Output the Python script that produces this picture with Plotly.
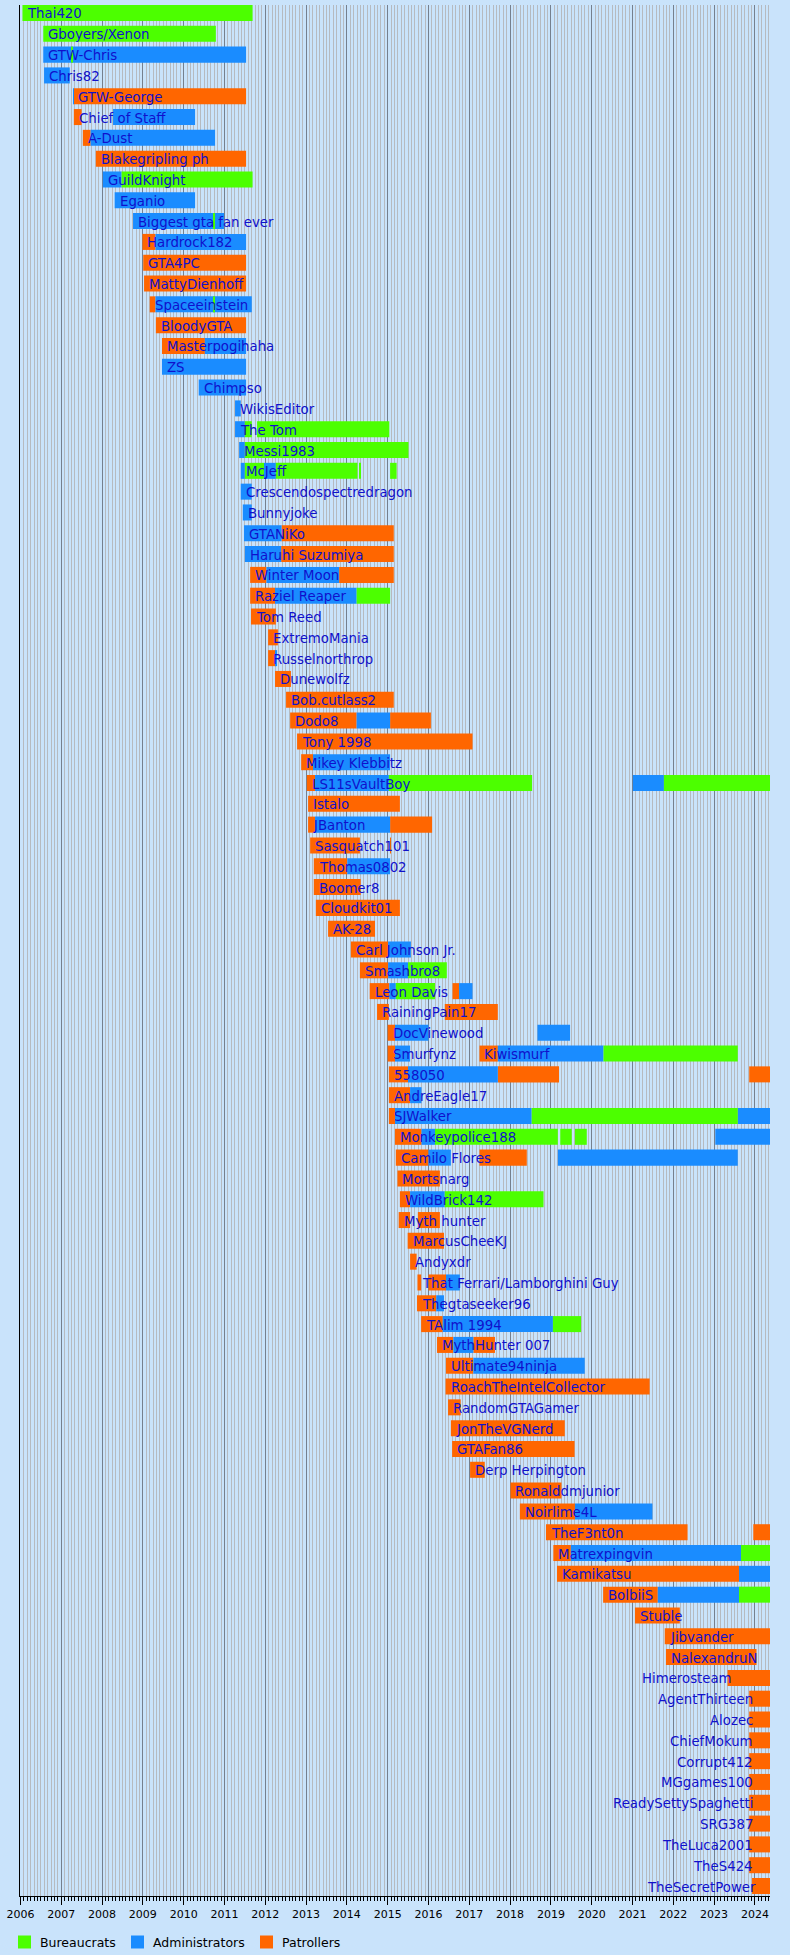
import plotly.graph_objects as go

# ---------------- data ----------------
users = [
    "Thai420", "Gboyers/Xenon", "GTW-Chris", "Chris82", "GTW-George", "Chief of Staff",
    "A-Dust", "Blakegripling ph", "GuildKnight", "Eganio", "Biggest gta fan ever",
    "Hardrock182", "GTA4PC", "MattyDienhoff", "Spaceeinstein", "BloodyGTA",
    "Masterpogihaha", "ZS", "Chimpso", "WikisEditor", "The Tom", "Messi1983", "McJeff",
    "Crescendospectredragon", "Bunnyjoke", "GTANiKo", "Haruhi Suzumiya", "Winter Moon",
    "Raziel Reaper", "Tom Reed", "ExtremoMania", "Russelnorthrop", "Dunewolfz",
    "Bob.cutlass2", "Dodo8", "Tony 1998", "Mikey Klebbitz", "LS11sVaultBoy", "Istalo",
    "JBanton", "Sasquatch101", "Thomas0802", "Boomer8", "Cloudkit01", "AK-28",
    "Carl Johnson Jr.", "Smashbro8", "Leon Davis", "RainingPain17", "DocVinewood",
    "Smurfynz", "558050", "AndreEagle17", "SJWalker", "Monkeypolice188", "Camilo Flores",
    "Mortsnarg", "WildBrick142", "Myth hunter", "MarcusCheeKJ", "Andyxdr",
    "That Ferrari/Lamborghini Guy", "Thegtaseeker96", "TAlim 1994", "MythHunter 007",
    "Ultimate94ninja", "RoachTheIntelCollector", "RandomGTAGamer", "JonTheVGNerd",
    "GTAFan86", "Derp Herpington", "Ronalddmjunior", "Noirlime4L", "TheF3nt0n",
    "Matrexpingvin", "Kamikatsu", "BolbiiS", "Stuble", "Jibvander", "NalexandruN",
    "Himerosteam", "AgentThirteen", "Alozec", "ChiefMokum", "Corrupt412", "MGgames100",
    "ReadySettySpaghetti", "SRG387", "TheLuca2001", "TheS424", "TheSecretPower",
]

groups = ["Patrollers", "Administrators", "Bureaucrats"]
legend_order = ["Bureaucrats", "Administrators", "Patrollers"]

# one entry per bar segment: user, group, from (decimal year), to (decimal year)
seg_user = [
    "Thai420", "Gboyers/Xenon", "GTW-Chris", "GTW-Chris", "Chris82",
    "GTW-George", "GTW-George", "Chief of Staff", "Chief of Staff",
    "A-Dust", "A-Dust", "Blakegripling ph", "GuildKnight", "GuildKnight", "Eganio",
    "Biggest gta fan ever", "Biggest gta fan ever", "Hardrock182", "Hardrock182",
    "GTA4PC", "MattyDienhoff", "Spaceeinstein", "Spaceeinstein", "Spaceeinstein",
    "BloodyGTA", "Masterpogihaha", "Masterpogihaha", "ZS", "Chimpso", "WikisEditor",
    "The Tom", "The Tom", "The Tom", "Messi1983", "Messi1983",
    "McJeff", "McJeff", "McJeff", "McJeff", "McJeff", "McJeff",
    "Crescendospectredragon", "Bunnyjoke", "GTANiKo", "GTANiKo",
    "Haruhi Suzumiya", "Haruhi Suzumiya", "Winter Moon", "Winter Moon", "Winter Moon",
    "Raziel Reaper", "Raziel Reaper", "Raziel Reaper", "Tom Reed", "ExtremoMania",
    "Russelnorthrop", "Russelnorthrop", "Dunewolfz", "Bob.cutlass2",
    "Dodo8", "Dodo8", "Dodo8", "Tony 1998", "Mikey Klebbitz", "Mikey Klebbitz",
    "LS11sVaultBoy", "LS11sVaultBoy", "LS11sVaultBoy", "LS11sVaultBoy", "LS11sVaultBoy",
    "Istalo", "JBanton", "JBanton", "JBanton", "Sasquatch101", "Sasquatch101",
    "Thomas0802", "Thomas0802", "Boomer8", "Cloudkit01", "AK-28",
    "Carl Johnson Jr.", "Carl Johnson Jr.", "Smashbro8", "Smashbro8", "Smashbro8",
    "Leon Davis", "Leon Davis", "Leon Davis", "Leon Davis", "Leon Davis",
    "RainingPain17", "RainingPain17", "DocVinewood", "DocVinewood", "DocVinewood",
    "Smurfynz", "Smurfynz", "Smurfynz", "Smurfynz", "Smurfynz",
    "558050", "558050", "558050", "558050", "AndreEagle17", "AndreEagle17",
    "SJWalker", "SJWalker", "SJWalker", "SJWalker",
    "Monkeypolice188", "Monkeypolice188", "Monkeypolice188", "Monkeypolice188",
    "Monkeypolice188", "Monkeypolice188",
    "Camilo Flores", "Camilo Flores", "Camilo Flores", "Camilo Flores",
    "Mortsnarg", "WildBrick142", "WildBrick142", "WildBrick142",
    "Myth hunter", "Myth hunter", "MarcusCheeKJ", "Andyxdr",
    "That Ferrari/Lamborghini Guy", "That Ferrari/Lamborghini Guy", "That Ferrari/Lamborghini Guy",
    "Thegtaseeker96", "Thegtaseeker96", "TAlim 1994", "TAlim 1994", "TAlim 1994",
    "MythHunter 007", "MythHunter 007", "MythHunter 007", "Ultimate94ninja", "Ultimate94ninja",
    "RoachTheIntelCollector", "RandomGTAGamer", "JonTheVGNerd", "GTAFan86",
    "Derp Herpington", "Ronalddmjunior", "Noirlime4L", "Noirlime4L",
    "TheF3nt0n", "TheF3nt0n", "Matrexpingvin", "Matrexpingvin", "Matrexpingvin",
    "Kamikatsu", "Kamikatsu", "BolbiiS", "BolbiiS", "BolbiiS", "Stuble",
    "Jibvander", "NalexandruN", "Himerosteam", "AgentThirteen", "Alozec", "ChiefMokum",
    "Corrupt412", "MGgames100", "ReadySettySpaghetti", "SRG387", "TheLuca2001",
    "TheS424", "TheSecretPower",
]
seg_group = [
    "Bureaucrats", "Bureaucrats", "Administrators", "Bureaucrats", "Administrators",
    "Administrators", "Patrollers", "Patrollers", "Administrators",
    "Patrollers", "Administrators", "Patrollers", "Administrators", "Bureaucrats", "Administrators",
    "Administrators", "Bureaucrats", "Patrollers", "Administrators",
    "Patrollers", "Patrollers", "Patrollers", "Administrators", "Bureaucrats",
    "Patrollers", "Patrollers", "Administrators", "Administrators", "Administrators", "Administrators",
    "Administrators", "Bureaucrats", "Bureaucrats", "Administrators", "Bureaucrats",
    "Administrators", "Bureaucrats", "Administrators", "Bureaucrats", "Bureaucrats", "Bureaucrats",
    "Administrators", "Administrators", "Administrators", "Patrollers",
    "Administrators", "Patrollers", "Patrollers", "Administrators", "Patrollers",
    "Patrollers", "Administrators", "Bureaucrats", "Patrollers", "Patrollers",
    "Patrollers", "Administrators", "Patrollers", "Patrollers",
    "Patrollers", "Administrators", "Patrollers", "Patrollers", "Patrollers", "Administrators",
    "Patrollers", "Administrators", "Bureaucrats", "Administrators", "Bureaucrats",
    "Patrollers", "Patrollers", "Administrators", "Patrollers", "Patrollers", "Patrollers",
    "Patrollers", "Administrators", "Patrollers", "Patrollers", "Patrollers",
    "Patrollers", "Administrators", "Patrollers", "Administrators", "Bureaucrats",
    "Patrollers", "Administrators", "Bureaucrats", "Patrollers", "Administrators",
    "Patrollers", "Patrollers", "Patrollers", "Administrators", "Administrators",
    "Patrollers", "Administrators", "Patrollers", "Administrators", "Bureaucrats",
    "Patrollers", "Administrators", "Patrollers", "Patrollers", "Patrollers", "Administrators",
    "Patrollers", "Administrators", "Bureaucrats", "Administrators",
    "Patrollers", "Administrators", "Bureaucrats", "Bureaucrats",
    "Bureaucrats", "Administrators",
    "Patrollers", "Administrators", "Patrollers", "Administrators",
    "Patrollers", "Patrollers", "Administrators", "Bureaucrats",
    "Patrollers", "Patrollers", "Patrollers", "Patrollers",
    "Patrollers", "Patrollers", "Administrators",
    "Patrollers", "Administrators", "Patrollers", "Administrators", "Bureaucrats",
    "Patrollers", "Administrators", "Patrollers", "Patrollers", "Administrators",
    "Patrollers", "Patrollers", "Patrollers", "Patrollers",
    "Patrollers", "Patrollers", "Patrollers", "Administrators",
    "Patrollers", "Patrollers", "Patrollers", "Administrators", "Bureaucrats",
    "Patrollers", "Administrators", "Patrollers", "Administrators", "Bureaucrats", "Patrollers",
    "Patrollers", "Patrollers", "Patrollers", "Patrollers", "Patrollers", "Patrollers",
    "Patrollers", "Patrollers", "Patrollers", "Patrollers", "Patrollers",
    "Patrollers", "Patrollers",
]
seg_from = [
    2006.05, 2006.56, 2006.56, 2007.25, 2006.58,
    2007.29, 2007.31, 2007.31, 2008.27,
    2007.53, 2007.72, 2007.85, 2008.02, 2008.48, 2008.31,
    2008.76, 2010.74, 2008.99, 2009.31,
    2009.01, 2009.03, 2009.17, 2009.31, 2010.74,
    2009.32, 2009.47, 2010.52, 2009.47, 2010.37, 2011.26,
    2011.26, 2011.50, 2011.80, 2011.36, 2011.50,
    2011.40, 2011.50, 2011.97, 2012.26, 2014.31, 2015.06,
    2011.40, 2011.45, 2011.48, 2012.40,
    2011.50, 2012.39, 2011.63, 2012.03, 2013.81,
    2011.63, 2012.24, 2014.24, 2011.65, 2012.07,
    2012.07, 2012.26, 2012.24, 2012.51,
    2012.61, 2014.24, 2015.06, 2012.78, 2012.88, 2013.17,
    2013.02, 2013.22, 2015.03, 2021.01, 2021.77,
    2013.05, 2013.05, 2013.22, 2015.06, 2013.10, 2015.06,
    2013.19, 2014.01, 2013.19, 2013.24, 2013.54,
    2014.10, 2015.01, 2014.32, 2015.01, 2015.50,
    2014.56, 2015.04, 2015.20, 2016.59, 2016.75,
    2014.74, 2016.40, 2015.00, 2015.18, 2018.67,
    2015.00, 2015.18, 2017.25, 2017.70, 2020.29,
    2015.03, 2015.50, 2017.70, 2023.86, 2015.03, 2015.55,
    2015.03, 2015.18, 2018.53, 2023.58,
    2015.18, 2015.83, 2016.16, 2019.23, 2019.59, 2023.03,
    2015.20, 2016.00, 2017.25, 2019.17,
    2015.24, 2015.30, 2015.55, 2016.40,
    2015.27, 2015.74, 2015.49, 2015.55,
    2015.73, 2016.00, 2016.43,
    2015.72, 2016.19, 2015.82, 2016.35, 2019.05,
    2016.21, 2016.61, 2017.10, 2016.43, 2017.10,
    2016.42, 2016.48, 2016.55, 2016.58,
    2017.02, 2018.01, 2018.24, 2019.59,
    2018.88, 2023.96, 2019.06, 2019.49, 2023.66,
    2019.15, 2023.61, 2020.28, 2021.62, 2023.61, 2021.06,
    2021.79, 2021.82, 2023.33, 2023.86, 2023.86, 2023.86,
    2023.86, 2023.86, 2023.86, 2023.86, 2023.86,
    2023.86, 2023.93,
]
seg_to = [
    2011.69, 2010.79, 2011.53, 2007.29, 2007.21,
    2007.31, 2011.53, 2007.50, 2010.28,
    2007.72, 2010.77, 2011.53, 2008.48, 2011.69, 2010.28,
    2010.99, 2010.77, 2009.31, 2011.53,
    2011.53, 2011.53, 2009.31, 2011.67, 2010.77,
    2011.53, 2010.52, 2011.53, 2011.53, 2011.53, 2011.40,
    2011.50, 2011.67, 2015.04, 2011.50, 2015.51,
    2011.50, 2011.97, 2012.26, 2014.26, 2014.33, 2015.22,
    2011.67, 2011.67, 2012.40, 2015.15,
    2012.39, 2015.15, 2012.03, 2013.81, 2015.15,
    2012.24, 2014.24, 2015.06, 2012.26, 2012.31,
    2012.26, 2012.29, 2012.63, 2015.15,
    2014.24, 2015.06, 2016.06, 2017.08, 2013.17, 2015.06,
    2013.22, 2015.03, 2018.54, 2021.77, 2024.37,
    2015.30, 2013.22, 2015.06, 2016.09, 2014.32, 2015.08,
    2014.01, 2015.06, 2014.34, 2015.30, 2014.69,
    2015.01, 2015.57, 2015.01, 2015.50, 2016.45,
    2015.04, 2015.20, 2016.16, 2016.75, 2017.08,
    2015.03, 2017.70, 2015.18, 2016.00, 2019.47,
    2015.18, 2015.55, 2017.70, 2020.29, 2023.58,
    2015.50, 2017.70, 2019.20, 2024.37, 2015.55, 2015.83,
    2015.18, 2018.53, 2023.58, 2024.37,
    2015.83, 2016.16, 2019.17, 2019.51, 2019.88, 2024.37,
    2016.00, 2016.55, 2018.41, 2023.58,
    2016.28, 2015.55, 2016.40, 2018.82,
    2015.55, 2016.28, 2016.38, 2015.71,
    2015.82, 2016.43, 2016.77,
    2016.19, 2016.38, 2016.35, 2019.05, 2019.74,
    2016.61, 2017.10, 2017.63, 2017.10, 2019.83,
    2021.42, 2016.79, 2019.34, 2019.58,
    2017.38, 2019.26, 2019.59, 2021.49,
    2022.35, 2024.37, 2019.49, 2023.66, 2024.37,
    2023.61, 2024.37, 2021.62, 2023.61, 2024.37, 2022.16,
    2024.37, 2024.04, 2024.37, 2024.37, 2024.37, 2024.37,
    2024.37, 2024.37, 2024.37, 2024.37, 2024.37,
    2024.37, 2024.37,
]

# extra caption placed on a later bar of the same row
extra_label_text = ["Kiwismurf"]
extra_label_user = ["Smurfynz"]
extra_label_x = [2017.25]

# captions drawn to the left of the bar (right-aligned)
right_aligned_users = users[80:]

years = list(range(2006, 2025))

# ---------------- style ----------------
W, H = 790, 1955
ML, MR, MT, MB = 20, 20, 5, 59
PW, PH = W - ML - MR, H - MT - MB
BG = "#c9e3fb"
COLORS = {"Bureaucrats": "#4cff00", "Administrators": "#1a8cff", "Patrollers": "#ff6600"}
TEXT_BLUE = "#1010cc"
FONT = "DejaVu Sans"
BAR_W = 0.77

row_of = {u: i for i, u in enumerate(users)}

fig = go.Figure()
for g in groups:
    idx = [k for k in range(len(seg_user)) if seg_group[k] == g]
    fig.add_trace(go.Bar(
        orientation="h",
        y=[row_of[seg_user[k]] for k in idx],
        base=[seg_from[k] for k in idx],
        x=[seg_to[k] - seg_from[k] for k in idx],
        width=BAR_W,
        marker=dict(color=COLORS[g], line=dict(width=0)),
        opacity=1,
        name=g,
        hoverinfo="skip",
        showlegend=False,
    ))

# captions
first_start = {}
for k, u in enumerate(seg_user):
    first_start[u] = min(first_start.get(u, 9999), seg_from[k])

annotations = []
for u in users:
    right = u in right_aligned_users
    annotations.append(dict(
        x=first_start[u], y=row_of[u], xref="x", yref="y",
        text=u, showarrow=False,
        xanchor="right" if right else "left",
        xshift=6 if right else 3,
        yshift=-1,
        font=dict(family=FONT, size=13.3, color=TEXT_BLUE),
    ))
for t, u, x in zip(extra_label_text, extra_label_user, extra_label_x):
    annotations.append(dict(
        x=x, y=row_of[u], xref="x", yref="y", text=t, showarrow=False,
        xanchor="left", xshift=3, yshift=-1,
        font=dict(family=FONT, size=13.3, color=TEXT_BLUE),
    ))

# legend (key swatches + names) below the axis, in pixel positions
shapes = []
legend_px = [18, 131, 260]     # swatch left edges
legend_cy = 1942               # vertical centre
SW = 13
for g, px in zip(legend_order, legend_px):
    shapes.append(dict(
        type="rect", xref="paper", yref="paper", layer="above",
        x0=(px - ML) / PW, x1=(px + SW - ML) / PW,
        y0=(H - MB - (legend_cy + SW / 2)) / PH, y1=(H - MB - (legend_cy - SW / 2)) / PH,
        fillcolor=COLORS[g], line=dict(width=0),
    ))
    annotations.append(dict(
        x=(px + SW + 7 - ML) / PW, y=(H - MB - legend_cy) / PH,
        xref="paper", yref="paper", text=g, showarrow=False,
        xanchor="left", yanchor="middle",
        font=dict(family=FONT, size=12.5, color="black"),
    ))

fig.update_layout(
    width=W, height=H,
    margin=dict(l=ML, r=MR, t=MT, b=MB, autoexpand=False),
    paper_bgcolor=BG, plot_bgcolor=BG,
    barmode="overlay",
    annotations=annotations,
    shapes=shapes,
    showlegend=False,
    xaxis=dict(
        range=[2005.99, 2024.37],
        tickvals=years, ticktext=[str(y) for y in years],
        showgrid=True, gridcolor="#76808e", gridwidth=1,
        minor=dict(dtick=1 / 12, tick0=2006, showgrid=True, gridcolor="#b6bac0",
                   gridwidth=1, ticks="outside", ticklen=4, tickcolor="black"),
        ticks="outside", ticklen=8, tickcolor="black",
        showline=True, linecolor="black", linewidth=1,
        zeroline=False,
        tickfont=dict(family=FONT, size=11, color="black"),
    ),
    yaxis=dict(
        range=[90.48, -0.384],
        showgrid=False, zeroline=False, showticklabels=False,
        showline=True, linecolor="black", linewidth=1, ticks="",
    ),
)

fig.write_html("out.html")
